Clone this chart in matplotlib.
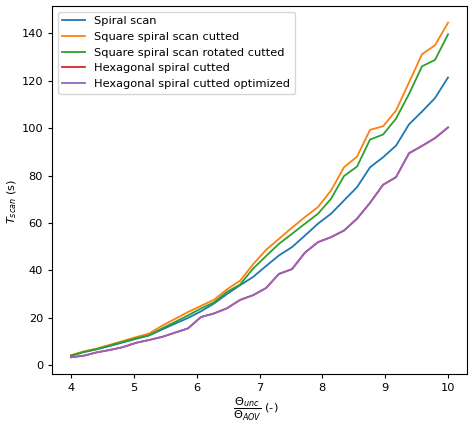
import matplotlib
matplotlib.use("Agg")
import matplotlib.pyplot as plt

x = [4.000, 4.207, 4.414, 4.621, 4.828, 5.034, 5.241, 5.448, 5.655, 5.862,
     6.069, 6.276, 6.483, 6.690, 6.897, 7.103, 7.310, 7.517, 7.724, 7.931,
     8.138, 8.345, 8.552, 8.759, 8.966, 9.172, 9.379, 9.586, 9.793, 10.000]

spiral = [4.0, 5.5, 6.7, 8.1, 9.6, 11.1, 12.5, 15.0, 17.5, 19.9,
          22.7, 26.0, 30.0, 33.7, 37.2, 41.8, 46.3, 49.8, 54.7, 59.7,
          63.9, 69.5, 75.1, 83.5, 87.7, 92.6, 101.6, 107.0, 112.7, 121.4]

square_cut = [4.2, 5.8, 7.0, 8.6, 10.2, 11.8, 13.3, 16.6, 19.5, 22.4,
              25.0, 27.6, 32.0, 35.6, 42.5, 48.6, 53.3, 58.0, 62.5, 66.7,
              73.7, 83.5, 88.0, 99.3, 100.8, 107.4, 119.3, 131.2, 135.0, 144.5]

square_rot_cut = [4.0, 5.6, 6.8, 8.3, 9.8, 11.3, 12.6, 15.5, 18.2, 21.0,
                  23.9, 26.5, 30.9, 34.0, 40.7, 46.0, 51.2, 55.4, 59.7, 63.9,
                  70.2, 79.8, 83.8, 95.2, 97.3, 104.0, 114.4, 126.1, 128.8, 139.6]

hex_cut = [3.3, 4.0, 5.4, 6.4, 7.6, 9.4, 10.6, 11.9, 13.7, 15.5,
           20.3, 21.8, 24.0, 27.5, 29.5, 32.5, 38.5, 40.5, 47.5, 51.9,
           54.0, 56.8, 61.8, 68.5, 76.1, 79.3, 89.4, 92.5, 95.8, 100.3]

hex_cut_opt = [3.3, 4.0, 5.4, 6.4, 7.6, 9.4, 10.6, 11.9, 13.7, 15.5,
               20.3, 21.8, 24.0, 27.5, 29.5, 32.5, 38.5, 40.5, 47.5, 51.9,
               54.0, 56.8, 61.8, 68.5, 76.1, 79.3, 89.4, 92.5, 95.8, 100.3]

labels = ["Spiral scan", "Square spiral scan cutted",
          "Square spiral scan rotated cutted", "Hexagonal spiral cutted",
          "Hexagonal spiral cutted optimized"]

plt.rcParams['font.size'] = 8.2
plt.rcParams['lines.linewidth'] = 1.3
plt.rcParams['xtick.major.size'] = 3.0
plt.rcParams['ytick.major.size'] = 3.0

fig = plt.figure(figsize=(4.74, 4.26), dpi=100)
ax = fig.add_axes([0.110, 0.122, 0.875, 0.864])

for series, lab in zip([spiral, square_cut, square_rot_cut, hex_cut, hex_cut_opt], labels):
    ax.plot(x, series, label=lab)

ax.set_xticks([4, 5, 6, 7, 8, 9, 10])
ax.set_yticks([0, 20, 40, 60, 80, 100, 120, 140])
ax.set_ylabel(r'$T_{scan}$ (s)')
ax.yaxis.set_label_coords(-0.08, 0.47)
ax.set_xlabel(r'$\dfrac{\Theta_{unc}}{\Theta_{AOV}}$ (-)')
ax.xaxis.set_label_coords(0.49, -0.06)
ax.legend(loc='upper left')

fig.savefig("out.png", dpi=100)
